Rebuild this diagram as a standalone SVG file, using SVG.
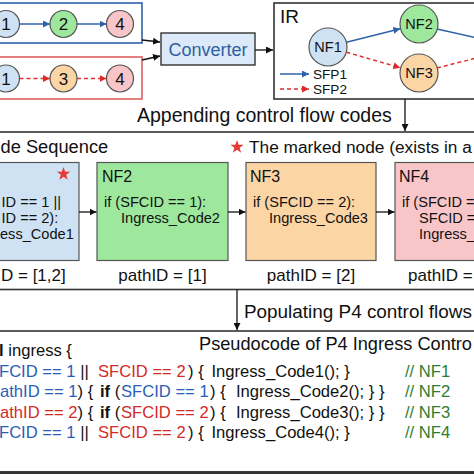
<svg xmlns="http://www.w3.org/2000/svg" width="474" height="474" viewBox="0 0 474 474">
<defs>
<marker id="ak" viewBox="0 0 10 10" refX="10" refY="5" markerWidth="7" markerHeight="7" markerUnits="userSpaceOnUse" orient="auto"><path d="M0,0 L10,5 L0,10 z" fill="#111"/></marker>
<marker id="abl" viewBox="0 0 10 10" refX="10" refY="5" markerWidth="7" markerHeight="7" markerUnits="userSpaceOnUse" orient="auto"><path d="M0,0 L10,5 L0,10 z" fill="#2f62a8"/></marker>
<marker id="ard" viewBox="0 0 10 10" refX="10" refY="5" markerWidth="7" markerHeight="7" markerUnits="userSpaceOnUse" orient="auto"><path d="M0,0 L10,5 L0,10 z" fill="#e02828"/></marker>
<path id="star" d="M0,-7 L1.65,-2.27 L6.66,-2.16 L2.66,0.87 L4.11,5.66 L0,2.8 L-4.11,5.66 L-2.66,0.87 L-6.66,-2.16 L-1.65,-2.27 Z" fill="#e53935"/>
<style>
text{font-family:"Liberation Sans",Arial,sans-serif;fill:#111}
.frame{fill:none;stroke:#333;stroke-width:1.6}
.nd{stroke:#555;stroke-width:1.2}
.cb{fill:#cfe2f3}.cg{fill:#9de89d}.co{fill:#fcd5a5}.cp{fill:#f8c6c8}
.dig{font-size:17px;text-anchor:middle}
.nfl{font-size:14.5px;text-anchor:middle}
.body{font-size:14.6px}
.lab{font-size:16px}
.pid{font-size:17px}
.head{font-size:19.5px}
.code{font-size:16.6px}
.blue{fill:#2a60b5}.red{fill:#d42a2a}.grn{fill:#2e7d32}
.b{font-weight:bold}
.sb{stroke:#2f62a8;stroke-width:1.5;fill:none;marker-end:url(#abl)}
.sr{stroke:#e03030;stroke-width:1.5;stroke-dasharray:4 3;fill:none;marker-end:url(#ard)}
.k{stroke:#111;stroke-width:1.3;fill:none;marker-end:url(#ak)}
</style>
</defs>
<rect width="474" height="474" fill="#fff"/>

<g id="sfc1">
<rect x="-10" y="3" width="152" height="40" fill="#fff" stroke="#2f62a8" stroke-width="1.6"/>
<circle cx="6" cy="24" r="13.5" class="nd cb"/><text x="6" y="30" class="dig">1</text>
<circle cx="63.5" cy="24" r="13.5" class="nd cg"/><text x="63.5" y="30" class="dig">2</text>
<circle cx="120" cy="24" r="13.5" class="nd cp"/><text x="120" y="30" class="dig">4</text>
</g>
<g id="sfc2">
<rect x="-10" y="57" width="152" height="42" fill="#fff" stroke="#e06060" stroke-width="1.6"/>
<circle cx="6" cy="78.5" r="13.5" class="nd cb"/><text x="6" y="84.5" class="dig">1</text>
<circle cx="63.5" cy="78.5" r="13.5" class="nd co"/><text x="63.5" y="84.5" class="dig">3</text>
<circle cx="120" cy="78.5" r="13.5" class="nd cp"/><text x="120" y="84.5" class="dig">4</text>
</g>
<g id="converter">
<rect x="161" y="33" width="94" height="32" fill="#dbe9f8" stroke="#333" stroke-width="1.4"/>
<text x="208" y="55.5" font-size="18" text-anchor="middle" style="fill:#2f5f9f">Converter</text>
</g>
<g id="ir">
<rect x="274" y="3" width="220" height="96" fill="#fff" stroke="#333" stroke-width="1.6"/>
<text x="280" y="23" font-size="19">IR</text>
<circle cx="328" cy="47" r="19" class="nd cb"/><text x="328" y="52" class="nfl">NF1</text>
<circle cx="419" cy="24" r="19" class="nd cg"/><text x="419" y="29" class="nfl">NF2</text>
<circle cx="419" cy="73" r="19" class="nd co"/><text x="419" y="78" class="nfl">NF3</text>
<line x1="280" y1="74" x2="309" y2="74" class="sb"/>
<text x="313" y="79" font-size="13.6">SFP1</text>
<line x1="280" y1="89" x2="309" y2="89" class="sr"/>
<text x="313" y="93.5" font-size="13.6">SFP2</text>
</g>

<g id="node-sequence">
<rect x="-5" y="132" width="484" height="157.5" class="frame"/>
<text x="137" y="122" class="head">Appending control flow codes</text>
<text x="0.5" y="153" font-size="18.3">de Sequence</text>
<use href="#star" x="237" y="147"/>
<text x="249" y="152.5" font-size="17.3">The marked node (exists in a</text>
</g>
<g id="nf1">
<rect x="-51" y="162.5" width="130" height="98" class="nd cb"/>
<use href="#star" x="63.5" y="174"/>
<text class="body"><tspan x="1.5" y="207">ID == 1 ||</tspan><tspan x="1.5" y="223">ID == 2):</tspan><tspan x="0" y="239">ess_Code1</tspan></text>
<text x="1" y="281" class="pid">D = [1,2]</text>
</g>
<g id="nf2">
<rect x="97" y="162.5" width="131" height="98" class="nd cg"/>
<text x="102" y="182" class="lab">NF2</text>
<text class="body"><tspan x="104" y="207">if (SFCID == 1):</tspan><tspan x="121" y="223">Ingress_Code2</tspan></text>
<text x="162.5" y="281" class="pid" text-anchor="middle">pathID = [1]</text>
</g>
<g id="nf3">
<rect x="246" y="162.5" width="130" height="98" class="nd co"/>
<text x="250" y="182" class="lab">NF3</text>
<text class="body"><tspan x="253" y="207">if (SFCID == 2):</tspan><tspan x="269" y="223">Ingress_Code3</tspan></text>
<text x="311" y="281" class="pid" text-anchor="middle">pathID = [2]</text>
</g>
<g id="nf4">
<rect x="395" y="162.5" width="130" height="98" class="nd cp"/>
<text x="399" y="182" class="lab">NF4</text>
<text class="body"><tspan x="402" y="207">if (SFCID =</tspan><tspan x="419" y="223">SFCID =</tspan><tspan x="419" y="239">Ingress_</tspan></text>
<text x="408" y="281" class="pid">pathID =</text>
</g>

<g id="pseudocode">
<rect x="-5" y="331" width="484" height="141" class="frame"/>
<line x1="-5" y1="472.7" x2="479" y2="472.7" stroke="#333" stroke-width="3"/>
<text x="244" y="318" font-size="18.9">Populating P4 control flows</text>
<text x="199" y="350" font-size="18.2">Pseudocode of P4 Ingress Contro</text>
<text y="356" class="code"><tspan x="-1" class="b">l</tspan><tspan> ingress {</tspan></text>
<text y="376.5" class="code"><tspan x="-1" class="blue">FCID == 1</tspan><tspan> || </tspan><tspan x="98" class="red">SFCID == 2</tspan><tspan x="188">) { </tspan><tspan x="211.5">Ingress_Code1(); }</tspan></text>
<text y="397" class="code"><tspan x="0" class="blue">athID == 1</tspan><tspan>) { </tspan><tspan x="100" class="b">if</tspan><tspan> (</tspan><tspan x="121" class="blue">SFCID == 1</tspan><tspan x="210">) { </tspan><tspan x="236">Ingress_Code2(); } }</tspan></text>
<text y="417.5" class="code"><tspan x="0" class="red">athID == 2</tspan><tspan>) { </tspan><tspan x="100" class="b">if</tspan><tspan> (</tspan><tspan x="121" class="red">SFCID == 2</tspan><tspan x="210">) { </tspan><tspan x="236">Ingress_Code3(); } }</tspan></text>
<text y="438" class="code"><tspan x="-1" class="blue">FCID == 1</tspan><tspan> || </tspan><tspan x="98" class="red">SFCID == 2</tspan><tspan x="188">) { </tspan><tspan x="211.5">Ingress_Code4(); }</tspan></text>
<text class="code grn"><tspan x="405" y="376.5">// NF1</tspan><tspan x="405" y="397">// NF2</tspan><tspan x="405" y="417.5">// NF3</tspan><tspan x="405" y="438">// NF4</tspan></text>
</g>

<g id="connectors">
<line x1="19.5" y1="24" x2="50" y2="24" class="sb"/>
<line x1="77" y1="24" x2="106.5" y2="24" class="sb"/>
<line x1="19.5" y1="78.5" x2="50" y2="78.5" class="sr"/>
<line x1="77" y1="78.5" x2="106.5" y2="78.5" class="sr"/>
<line x1="142" y1="40" x2="160" y2="42" class="k"/>
<line x1="142" y1="60" x2="160" y2="56" class="k"/>
<line x1="255" y1="50" x2="273" y2="50" class="k"/>
<line x1="346.4" y1="42.3" x2="400.3" y2="28.7" class="sb"/>
<line x1="346.3" y1="52.2" x2="400.3" y2="67.7" class="sr"/>
<line x1="437" y1="29" x2="500" y2="43" class="sb" style="marker-end:none"/>
<line x1="437" y1="68" x2="500" y2="52" class="sr" style="marker-end:none"/>
<line x1="405" y1="99" x2="405" y2="131" class="k"/>
<line x1="79" y1="212" x2="96.5" y2="212" class="k"/>
<line x1="228" y1="212" x2="245.5" y2="212" class="k"/>
<line x1="376" y1="212" x2="394.5" y2="212" class="k"/>
<line x1="237" y1="290" x2="237" y2="330" class="k"/>
</g>
</svg>
